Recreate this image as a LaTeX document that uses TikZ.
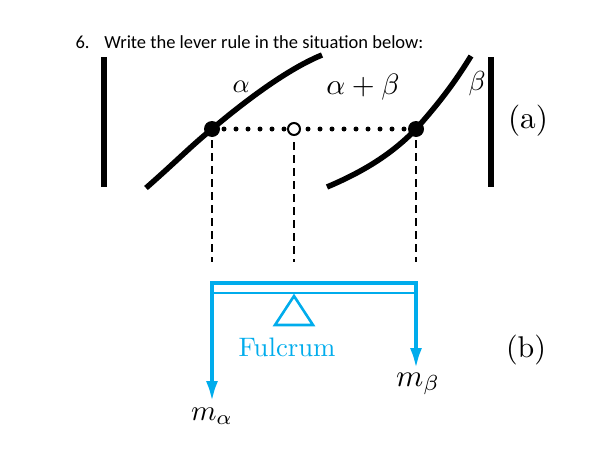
\documentclass[tikz,border=0pt]{standalone}
\usepackage{graphicx}
\usepackage{fontspec}
\newfontfamily\titlefont{Carlito}
\usetikzlibrary{arrows.meta}
\definecolor{cy}{RGB}{0,172,236}
\begin{document}
\begin{tikzpicture}[x=1pt,y=-1pt,
  bar/.style={line width=5.5pt},
  curve/.style={line width=5.5pt},
  bl/.style={cy,line width=4.5pt},
  dsh/.style={dash pattern=on 8pt off 5pt,line width=1.2pt}]
\useasboundingbox (0,0) rectangle (610,455);
\node[anchor=west,font=\titlefont\fontsize{18.5}{19}\selectfont] (title) at (72,42) {6.\hspace{0.8em}Write the lever rule in the situation below:};
\draw[bar] (104,57) -- (104,187);
\draw[bar] (491,57) -- (491,187);
\coordinate (L) at (212,129);
\coordinate (R) at (416,129);
\draw[curve] (146,188) .. controls (180,158) and (190,147) .. (L) .. controls (250,97) and (290,68) .. (322,55);
\draw[curve] (327,187) .. controls (360,173) and (390,156) .. (R) .. controls (440,102) and (455,82) .. (471,56);
\draw[line width=5pt,line cap=round,dash pattern=on 0pt off 12pt] (L) -- (288,129);
\draw[line width=5pt,line cap=round,dash pattern=on 0pt off 12pt] (R) -- (300,129);
\fill (L) circle (8pt);
\fill (R) circle (8pt);
\node[circle,draw,line width=2pt,fill=white,inner sep=0pt,minimum size=12pt] (O) at (294,129) {};
\draw[dsh] (212,140) -- (212,262);
\draw[dsh] (O.south) ++(0,6) -- (294,262);
\draw[dsh] (416,140) -- (416,262);
\node (la) at (241,87) {\resizebox{17pt}{!}{$\alpha$}};
\node (lab2) at (363,87) {\resizebox{73pt}{!}{$\alpha + \beta$}};
\node (lb) at (477,84) {\resizebox{17pt}{!}{$\beta$}};
\node (a) at (528,121) {\resizebox{40pt}{!}{(a)}};
% lever
\draw[bl] (212,283) -- (416,283);
\draw[cy,line width=2.8pt] (214,293) -- (414,293);
\draw[bl,-{Latex[length=22pt,width=12pt]}] (212,281) -- (212,403);
\draw[bl,-{Latex[length=22pt,width=12pt]}] (416,281) -- (416,370);
\draw[cy,line width=2.6pt] (294,296) -- (313,325) -- (275,325) -- cycle;
\node[cy] (f) at (287,347) {\resizebox{97pt}{!}{Fulcrum}};
\node (mb) at (418,384) {\resizebox{44pt}{!}{$m_\beta$}};
\node (ma) at (212,416) {\resizebox{42pt}{!}{$m_\alpha$}};
\node (b) at (526,350) {\resizebox{40pt}{!}{(b)}};
\end{tikzpicture}
\end{document}
